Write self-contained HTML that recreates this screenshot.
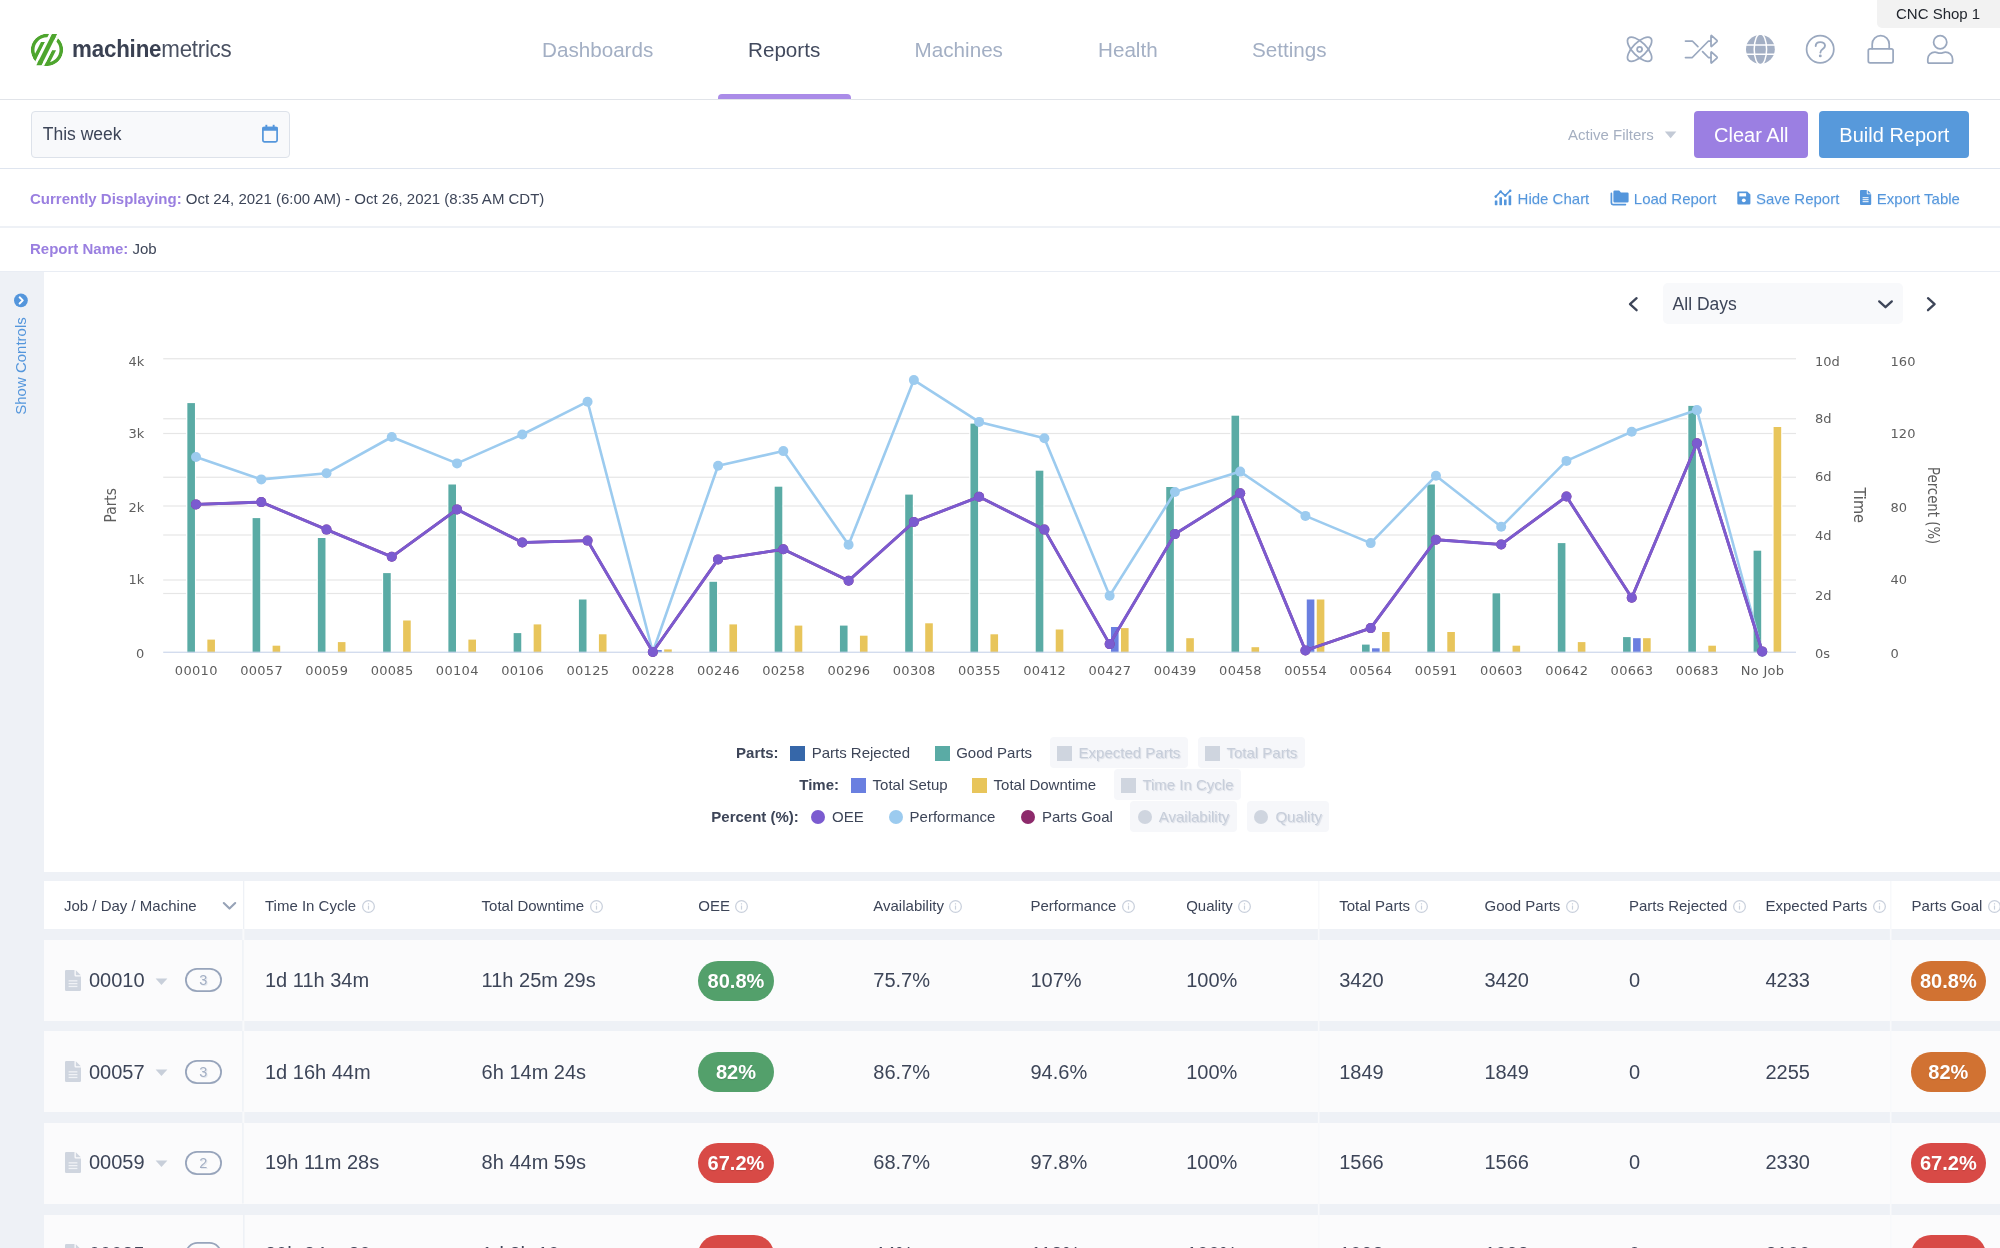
<!DOCTYPE html><html lang="en"><head><meta charset="utf-8"><title>MachineMetrics - Reports</title><style>
*{box-sizing:border-box;margin:0;padding:0}
html,body{width:2000px;height:1248px;overflow:hidden;background:#fff}
body{position:relative;will-change:transform;font-family:"Liberation Sans", Arial, sans-serif;color:#3d4558}
.abs{position:absolute;white-space:nowrap}
.ln{position:absolute;left:0;width:2000px}
.nav{font-size:20.65px;line-height:24px;color:#a3afc4;top:38px}
.nav.act{color:#424a5e}
.lnk{font-size:15px;line-height:18px;color:#5496dc;top:190px;text-shadow:0 1px 1px rgba(79,147,219,.25)}
.lgt{font-size:15px;line-height:20px;font-weight:bold;color:#3d4558}
.lgon,.lgoff{font-size:15px;line-height:31px;height:31px;padding:0 7.4px;border-radius:4px;color:#3d4558}
.lgoff{background:#f6f7fa;color:#c7ceda;text-shadow:1px 1px 1px rgba(160,170,190,.35)}
.ic{display:inline-block;width:15px;height:15px;margin-right:6.2px;vertical-align:-2.6px;background:#cfd5df}
.ic.rd{width:14px;height:14px;border-radius:50%;margin-right:7px;vertical-align:-2px}
.th{font-size:15px;line-height:20px;color:#3d4558}
.info{margin-left:5.4px;vertical-align:-2px}
.td{font-size:20px;line-height:24px;color:#3d4558}
.badge{width:37px;height:24.4px;box-shadow:inset 0 0 0 1.8px #97a4bb;border-radius:13px;text-align:center;font-size:14.5px;line-height:25.8px;color:#a3afc4;text-shadow:1px 1px 0 #e6e9ef}
.pill{width:75.3px;height:40px;border-radius:20px;color:#fff;font-weight:bold;font-size:20px;line-height:40.200px;text-align:center;text-shadow:0 1px 1px rgba(0,0,0,.12)}
.pill.g{background:#53a06b}.pill.r{background:#d84a46}.pill.o{background:#d17232}
</style></head><body>
<svg class="abs" style="left:28px;top:31px" width="38" height="38" viewBox="28 31 38 38">
<defs><clipPath id="lc"><circle cx="47" cy="49.8" r="16.15"/></clipPath></defs>
<g clip-path="url(#lc)">
<circle cx="47" cy="49.8" r="14.35" fill="none" stroke="#4ea52e" stroke-width="3.6"/>
<path d="M41 42h4.1L34.9 62.200h-4.100z" fill="#4ea52e"/>
<path d="M52 50.300h4.100L47.100 68h-4.100z" fill="#4ea52e"/>
<path d="M51.050 30h3.100L34 70h-3.100zM59.150 30h3.060L42.050 70h-3.060z" fill="#fff"/>
</g>
<path d="M52.100 34.100h5L41.400 65.300h-5z" fill="#4ea52e"/>
</svg>
<div class="abs" style="left:72.4px;top:35.2px;font-size:23.2px;line-height:28px;color:#3a4152;letter-spacing:-.3px;transform-origin:0 50%;transform:scaleX(.964)"><b style="letter-spacing:-.2px">machine</b><span style="font-weight:normal;color:#4a5162">metrics</span></div>
<div class="abs nav" style="left:542px">Dashboards</div>
<div class="abs nav act" style="left:748px">Reports</div>
<div class="abs nav" style="left:914.6px">Machines</div>
<div class="abs nav" style="left:1098px">Health</div>
<div class="abs nav" style="left:1252px">Settings</div>
<div class="abs" style="left:718px;top:93.6px;width:133px;height:5.4px;background:#aa8ce8;border-radius:4px 4px 0 0"></div>
<div class="abs" style="left:1876.6px;top:0;width:124px;height:27.6px;background:#f2f2f2;border-radius:0 0 0 5px;font-size:15px;line-height:28px;color:#22262e;padding-left:19.4px">CNC Shop 1</div>
<svg class="abs" style="left:1600px;top:20px" width="380" height="60" viewBox="1600 20 380 60" fill="none" stroke="#9aa8bf" stroke-width="1.75" stroke-linecap="round" stroke-linejoin="round">
<g transform="translate(1639.6,49.3)"><ellipse rx="15.7" ry="6.8" transform="rotate(45)"/><ellipse rx="15.7" ry="6.8" transform="rotate(-45)"/><circle r="2.5"/></g>
<path d="M1685.5 41h6.8l5.6 5.6M1702.6 51.6l5.8 5.9h2.3M1685.5 57.5h6.8l16.2-16.5h2.2"/>
<path d="M1711 36.2v9.6q0 1.2 .9 .4l5-4.6q.6-.6 0-1.2l-5-4.6q-.9-.8-.9 .4zM1711 52.7v9.6q0 1.2 .9 .4l5-4.6q.6-.6 0-1.2l-5-4.6q-.9-.8-.9 .4z"/>
<g stroke="none"><circle cx="1760.4" cy="49.3" r="14.4" fill="#a3afc4"/></g>
<g stroke="#fff" stroke-width="1.5" stroke-linecap="butt"><ellipse cx="1760.4" cy="49.3" rx="6.2" ry="15.6"/><path d="M1745 44.900h31M1745 54.300h31"/></g>
<circle cx="1820.2" cy="49.2" r="13.6"/>
<path d="M1815.7 46.100c0-2.500 2-4 4.600-4s4.700 1.500 4.700 3.700c0 3.300-4.600 3.200-4.600 6.700" stroke-width="1.900"/>
<circle cx="1820.3" cy="55.900" r="1.450" fill="#9aa8bf" stroke="none"/>
<rect x="1868.3" y="48.8" width="24.8" height="14" rx="1.8"/>
<path d="M1872.2 48.6v-4.4a8.5 8.5 0 0 1 17 0v4.4"/>
<circle cx="1940.2" cy="42.2" r="6.6"/>
<path d="M1929.6 63.2h21.2q1.8 0 1.8-1.8v-2.2c0-4-3.3-7-7.2-7c-1.8 0-2.7 1-5.2 1s-3.4-1-5.2-1c-3.9 0-7.2 3-7.2 7v2.2q0 1.8 1.8 1.8z"/>
</svg>
<div class="ln" style="top:98.8px;height:1.4px;background:#e1e4e9"></div>
<div class="abs" style="left:30.8px;top:111.2px;width:259px;height:46.4px;border:1px solid #dde2ea;border-radius:4px;background:#f8f9fb;font-size:17.5px;line-height:44px;padding-left:11px;color:#3d4558">This week</div>
<svg class="abs" style="left:260.6px;top:124px" width="18" height="20" viewBox="0 0 18 20"><rect x="1.9" y="3.6" width="14.2" height="14.3" rx="1.6" fill="none" stroke="#5496dc" stroke-width="1.7"/><rect x="1.2" y="2.8" width="15.6" height="4" rx="1.2" fill="#5496dc"/><rect x="4.4" y="0.8" width="1.9" height="4" fill="#5496dc"/><rect x="11.7" y="0.8" width="1.9" height="4" fill="#5496dc"/></svg>
<div class="abs" style="left:1568px;top:125.5px;font-size:15px;line-height:18px;color:#a5afc1">Active Filters</div>
<svg class="abs" style="left:1663.5px;top:131px" width="14" height="8" viewBox="0 0 14 8"><path d="M0.8 0.6h11.6L6.6 7.2z" fill="#c3cad6"/></svg>
<div class="abs" style="left:1694.4px;top:111px;width:113.8px;height:47px;border-radius:4px;background:#9b7fe2;color:#fff;font-size:20px;line-height:48px;text-align:center">Clear All</div>
<div class="abs" style="left:1819.4px;top:111px;width:150px;height:47px;border-radius:4px;background:#5799db;color:#fff;font-size:20px;line-height:48px;text-align:center">Build Report</div>
<div class="ln" style="top:168px;height:1.2px;background:#dfe5ef"></div>
<div class="abs" style="left:30px;top:189.5px;font-size:15px;line-height:18px;color:#3d4558"><b style="color:#9a7fe0">Currently Displaying:</b> Oct 24, 2021 (6:00 AM) - Oct 26, 2021 (8:35 AM CDT)</div>
<svg class="abs" style="left:1493.5px;top:189px" width="18" height="17" viewBox="0 0 18 17"><g fill="#5496dc"><rect x="0.8" y="11.6" width="2.6" height="4.6" rx=".4"/><rect x="5.4" y="8.2" width="2.6" height="8" rx=".4"/><rect x="10" y="10.4" width="2.6" height="5.8" rx=".4"/><rect x="14.6" y="6.4" width="2.6" height="9.8" rx=".4"/></g><path d="M1.6 7.6L6.6 2.6l4.6 4L16.2 1.6" fill="none" stroke="#5496dc" stroke-width="1.5" stroke-linecap="round" stroke-linejoin="round"/><g fill="#5496dc"><circle cx="1.8" cy="7.6" r="1.3"/><circle cx="6.6" cy="2.6" r="1.3"/><circle cx="11.2" cy="6.6" r="1.3"/><circle cx="16.2" cy="1.7" r="1.3"/></g></svg>
<div class="abs lnk" style="left:1517.6px">Hide Chart</div>
<svg class="abs" style="left:1609.5px;top:189.5px" width="19" height="16" viewBox="0 0 19 16"><path d="M4.6 0.6h4.6l1.7 1.8h6.5a1.2 1.2 0 0 1 1.2 1.2v7.6a1.2 1.2 0 0 1-1.2 1.2H4.6a1.2 1.2 0 0 1-1.2-1.2V1.8A1.2 1.2 0 0 1 4.6 0.6z" fill="#5496dc"/><path d="M1.4 3.4v9.600a1.600 1.600 0 0 0 1.600 1.600h12.400" fill="none" stroke="#5496dc" stroke-width="1.7" stroke-linecap="round"/></svg>
<div class="abs lnk" style="left:1633.8px">Load Report</div>
<svg class="abs" style="left:1737px;top:191px" width="14" height="14" viewBox="0 0 14 14"><path d="M1.5 0.4h8.7l3.2 3.200v8.700a1.200 1.200 0 0 1-1.200 1.200H1.500a1.200 1.200 0 0 1-1.200-1.200V1.600A1.200 1.200 0 0 1 1.500 0.400z" fill="#5496dc"/><rect x="2.300" y="2.200" width="6.800" height="3.200" fill="#fff"/><circle cx="6.800" cy="9.300" r="1.900" fill="#fff"/></svg>
<div class="abs lnk" style="left:1756px">Save Report</div>
<svg class="abs" style="left:1859.8px;top:190px" width="12" height="16" viewBox="0 0 12 16"><path d="M1 0h5.800v3.400a0.900 0.900 0 0 0 0.900 0.900H11.200v9.700a1 1 0 0 1-1 1H1a1 1 0 0 1-1-1V1A1 1 0 0 1 1 0z" fill="#5496dc"/><path d="M7.700 0.200l3.400 3.300H7.700z" fill="#5496dc"/><g fill="#fff"><rect x="2.600" y="7.200" width="6" height="1"/><rect x="2.600" y="9.200" width="6" height="1"/><rect x="2.600" y="11.200" width="6" height="1"/></g></svg>
<div class="abs lnk" style="left:1876.8px">Export Table</div>
<div class="ln" style="top:226.4px;height:1.2px;background:#eef1f6"></div>
<div class="abs" style="left:30px;top:239.5px;font-size:15px;line-height:18px;color:#3d4558"><b style="color:#9a7fe0">Report Name:</b> Job</div>
<div class="ln" style="top:270.6px;height:1.4px;background:#e9edf4"></div>
<div class="abs" style="left:0;top:272px;width:2000px;height:976px;background:#eef1f6"></div>
<div class="abs" style="left:44px;top:272px;width:1956px;height:600px;background:#fff"></div>
<svg class="abs" style="left:13px;top:293px" width="16" height="16" viewBox="0 0 16 16"><circle cx="7.9" cy="7.4" r="6.9" fill="#5496dc"/><path d="M6.6 4.3l3.200 3.100-3.200 3.100" fill="none" stroke="#fff" stroke-width="1.900" stroke-linecap="round" stroke-linejoin="round"/></svg>
<div class="abs" style="left:21px;top:365.7px;width:0;height:0"><div class="abs" style="transform:translate(-50%,-50%) rotate(-90deg);font-size:15px;line-height:18px;color:#5496dc">Show Controls</div></div>
<svg class="abs" style="left:1626px;top:295px" width="14" height="18" viewBox="0 0 14 18"><path d="M10.600 3.200L4 9.200l6.600 6" fill="none" stroke="#3d4558" stroke-width="2.300" stroke-linecap="round" stroke-linejoin="round"/></svg>
<div class="abs" style="left:1663px;top:283px;width:239.8px;height:41.2px;border-radius:5px;background:#f8f9fb;font-size:17.5px;line-height:42.2px;padding-left:9.6px;color:#3d4558">All Days</div>
<svg class="abs" style="left:1876px;top:298px" width="18" height="12" viewBox="0 0 18 12"><path d="M3.200 3.400l6.300 5.800 6.300-5.800" fill="none" stroke="#3d4558" stroke-width="2.300" stroke-linecap="round" stroke-linejoin="round"/></svg>
<svg class="abs" style="left:1924px;top:295px" width="14" height="18" viewBox="0 0 14 18"><path d="M4 3.200l6.600 6-6.600 6" fill="none" stroke="#3d4558" stroke-width="2.300" stroke-linecap="round" stroke-linejoin="round"/></svg>
<svg class="abs" style="left:0;top:272px" width="2000" height="600" viewBox="0 272 2000 600">
<rect x="163.2" y="358.15" width="1632.8" height="1.2" fill="#e6e6e6"/>
<rect x="163.2" y="418.15" width="1632.8" height="1.2" fill="#e6e6e6"/>
<rect x="163.2" y="432.90" width="1632.8" height="1.2" fill="#e6e6e6"/>
<rect x="163.2" y="476.65" width="1632.8" height="1.2" fill="#e6e6e6"/>
<rect x="163.2" y="505.40" width="1632.8" height="1.2" fill="#e6e6e6"/>
<rect x="163.2" y="534.40" width="1632.8" height="1.2" fill="#e6e6e6"/>
<rect x="163.2" y="579.40" width="1632.8" height="1.2" fill="#e6e6e6"/>
<rect x="163.2" y="592.90" width="1632.8" height="1.2" fill="#e6e6e6"/>
<rect x="186.15" y="401.90" width="10.0" height="249.75" fill="#fff"/>
<rect x="187.35" y="403.10" width="7.6" height="249.45" fill="#5aaba5"/>
<rect x="206.15" y="638.40" width="10.0" height="13.25" fill="#fff"/>
<rect x="207.35" y="639.60" width="7.6" height="12.95" fill="#e8c55b"/>
<rect x="251.41" y="516.90" width="10.0" height="134.75" fill="#fff"/>
<rect x="252.61" y="518.10" width="7.6" height="134.45" fill="#5aaba5"/>
<rect x="271.41" y="644.50" width="10.0" height="7.15" fill="#fff"/>
<rect x="272.61" y="645.70" width="7.6" height="6.85" fill="#e8c55b"/>
<rect x="316.67" y="536.80" width="10.0" height="114.85" fill="#fff"/>
<rect x="317.87" y="538.00" width="7.6" height="114.55" fill="#5aaba5"/>
<rect x="336.67" y="640.90" width="10.0" height="10.75" fill="#fff"/>
<rect x="337.87" y="642.10" width="7.6" height="10.45" fill="#e8c55b"/>
<rect x="381.93" y="571.90" width="10.0" height="79.75" fill="#fff"/>
<rect x="383.13" y="573.10" width="7.6" height="79.45" fill="#5aaba5"/>
<rect x="401.93" y="619.30" width="10.0" height="32.35" fill="#fff"/>
<rect x="403.13" y="620.50" width="7.6" height="32.05" fill="#e8c55b"/>
<rect x="447.19" y="483.30" width="10.0" height="168.35" fill="#fff"/>
<rect x="448.39" y="484.50" width="7.6" height="168.05" fill="#5aaba5"/>
<rect x="467.19" y="638.40" width="10.0" height="13.25" fill="#fff"/>
<rect x="468.39" y="639.60" width="7.6" height="12.95" fill="#e8c55b"/>
<rect x="512.45" y="631.90" width="10.0" height="19.75" fill="#fff"/>
<rect x="513.65" y="633.10" width="7.6" height="19.45" fill="#5aaba5"/>
<rect x="532.45" y="623.20" width="10.0" height="28.45" fill="#fff"/>
<rect x="533.65" y="624.40" width="7.6" height="28.15" fill="#e8c55b"/>
<rect x="577.71" y="598.30" width="10.0" height="53.35" fill="#fff"/>
<rect x="578.91" y="599.50" width="7.6" height="53.05" fill="#5aaba5"/>
<rect x="597.71" y="633.10" width="10.0" height="18.55" fill="#fff"/>
<rect x="598.91" y="634.30" width="7.6" height="18.25" fill="#e8c55b"/>
<rect x="652.97" y="648.80" width="10.0" height="2.85" fill="#fff"/>
<rect x="654.17" y="650.00" width="7.6" height="2.55" fill="#6a7fe0"/>
<rect x="662.97" y="648.20" width="10.0" height="3.45" fill="#fff"/>
<rect x="664.17" y="649.40" width="7.6" height="3.15" fill="#e8c55b"/>
<rect x="708.23" y="580.60" width="10.0" height="71.05" fill="#fff"/>
<rect x="709.43" y="581.80" width="7.6" height="70.75" fill="#5aaba5"/>
<rect x="728.23" y="623.20" width="10.0" height="28.45" fill="#fff"/>
<rect x="729.43" y="624.40" width="7.6" height="28.15" fill="#e8c55b"/>
<rect x="773.49" y="485.50" width="10.0" height="166.15" fill="#fff"/>
<rect x="774.69" y="486.70" width="7.6" height="165.85" fill="#5aaba5"/>
<rect x="793.49" y="624.40" width="10.0" height="27.25" fill="#fff"/>
<rect x="794.69" y="625.60" width="7.6" height="26.95" fill="#e8c55b"/>
<rect x="838.75" y="624.40" width="10.0" height="27.25" fill="#fff"/>
<rect x="839.95" y="625.60" width="7.6" height="26.95" fill="#5aaba5"/>
<rect x="858.75" y="634.50" width="10.0" height="17.15" fill="#fff"/>
<rect x="859.95" y="635.70" width="7.6" height="16.85" fill="#e8c55b"/>
<rect x="904.01" y="493.40" width="10.0" height="158.25" fill="#fff"/>
<rect x="905.21" y="494.60" width="7.6" height="157.95" fill="#5aaba5"/>
<rect x="924.01" y="622.10" width="10.0" height="29.55" fill="#fff"/>
<rect x="925.21" y="623.30" width="7.6" height="29.25" fill="#e8c55b"/>
<rect x="969.27" y="422.40" width="10.0" height="229.25" fill="#fff"/>
<rect x="970.47" y="423.60" width="7.6" height="228.95" fill="#5aaba5"/>
<rect x="989.27" y="633.10" width="10.0" height="18.55" fill="#fff"/>
<rect x="990.47" y="634.30" width="7.6" height="18.25" fill="#e8c55b"/>
<rect x="1034.53" y="469.50" width="10.0" height="182.15" fill="#fff"/>
<rect x="1035.73" y="470.70" width="7.6" height="181.85" fill="#5aaba5"/>
<rect x="1054.53" y="628.30" width="10.0" height="23.35" fill="#fff"/>
<rect x="1055.73" y="629.50" width="7.6" height="23.05" fill="#e8c55b"/>
<rect x="1109.79" y="625.80" width="10.0" height="25.85" fill="#fff"/>
<rect x="1110.99" y="627.00" width="7.6" height="25.55" fill="#6a7fe0"/>
<rect x="1119.79" y="626.90" width="10.0" height="24.75" fill="#fff"/>
<rect x="1120.99" y="628.10" width="7.6" height="24.45" fill="#e8c55b"/>
<rect x="1165.05" y="485.80" width="10.0" height="165.85" fill="#fff"/>
<rect x="1166.25" y="487.00" width="7.6" height="165.55" fill="#5aaba5"/>
<rect x="1185.05" y="637.00" width="10.0" height="14.65" fill="#fff"/>
<rect x="1186.25" y="638.20" width="7.6" height="14.35" fill="#e8c55b"/>
<rect x="1230.31" y="414.50" width="10.0" height="237.15" fill="#fff"/>
<rect x="1231.51" y="415.70" width="7.6" height="236.85" fill="#5aaba5"/>
<rect x="1250.31" y="646.00" width="10.0" height="5.65" fill="#fff"/>
<rect x="1251.51" y="647.20" width="7.6" height="5.35" fill="#e8c55b"/>
<rect x="1305.57" y="598.30" width="10.0" height="53.35" fill="#fff"/>
<rect x="1306.77" y="599.50" width="7.6" height="53.05" fill="#6a7fe0"/>
<rect x="1315.57" y="598.30" width="10.0" height="53.35" fill="#fff"/>
<rect x="1316.77" y="599.50" width="7.6" height="53.05" fill="#e8c55b"/>
<rect x="1360.83" y="643.40" width="10.0" height="8.25" fill="#fff"/>
<rect x="1362.03" y="644.60" width="7.6" height="7.95" fill="#5aaba5"/>
<rect x="1370.83" y="647.10" width="10.0" height="4.55" fill="#fff"/>
<rect x="1372.03" y="648.30" width="7.6" height="4.25" fill="#6a7fe0"/>
<rect x="1380.83" y="630.80" width="10.0" height="20.85" fill="#fff"/>
<rect x="1382.03" y="632.00" width="7.6" height="20.55" fill="#e8c55b"/>
<rect x="1426.09" y="483.30" width="10.0" height="168.35" fill="#fff"/>
<rect x="1427.29" y="484.50" width="7.6" height="168.05" fill="#5aaba5"/>
<rect x="1446.09" y="630.80" width="10.0" height="20.85" fill="#fff"/>
<rect x="1447.29" y="632.00" width="7.6" height="20.55" fill="#e8c55b"/>
<rect x="1491.35" y="592.10" width="10.0" height="59.55" fill="#fff"/>
<rect x="1492.55" y="593.30" width="7.6" height="59.25" fill="#5aaba5"/>
<rect x="1511.35" y="644.50" width="10.0" height="7.15" fill="#fff"/>
<rect x="1512.55" y="645.70" width="7.6" height="6.85" fill="#e8c55b"/>
<rect x="1556.61" y="541.90" width="10.0" height="109.75" fill="#fff"/>
<rect x="1557.81" y="543.10" width="7.6" height="109.45" fill="#5aaba5"/>
<rect x="1576.61" y="640.90" width="10.0" height="10.75" fill="#fff"/>
<rect x="1577.81" y="642.10" width="7.6" height="10.45" fill="#e8c55b"/>
<rect x="1621.87" y="635.90" width="10.0" height="15.75" fill="#fff"/>
<rect x="1623.07" y="637.10" width="7.6" height="15.45" fill="#5aaba5"/>
<rect x="1631.87" y="637.00" width="10.0" height="14.65" fill="#fff"/>
<rect x="1633.07" y="638.20" width="7.6" height="14.35" fill="#6a7fe0"/>
<rect x="1641.87" y="637.00" width="10.0" height="14.65" fill="#fff"/>
<rect x="1643.07" y="638.20" width="7.6" height="14.35" fill="#e8c55b"/>
<rect x="1687.13" y="404.70" width="10.0" height="246.95" fill="#fff"/>
<rect x="1688.33" y="405.90" width="7.6" height="246.65" fill="#5aaba5"/>
<rect x="1707.13" y="644.50" width="10.0" height="7.15" fill="#fff"/>
<rect x="1708.33" y="645.70" width="7.6" height="6.85" fill="#e8c55b"/>
<rect x="1752.39" y="549.50" width="10.0" height="102.15" fill="#fff"/>
<rect x="1753.59" y="550.70" width="7.6" height="101.85" fill="#5aaba5"/>
<rect x="1772.39" y="425.80" width="10.0" height="225.85" fill="#fff"/>
<rect x="1773.59" y="427.00" width="7.6" height="225.55" fill="#e8c55b"/>
<rect x="163.2" y="651.65" width="1632.8" height="1.2" fill="#ccd6eb"/>
<polyline points="196.00,457.00 261.26,479.40 326.52,473.20 391.78,437.00 457.04,463.40 522.30,434.50 587.56,401.70 652.82,652.00 718.08,465.70 783.34,451.10 848.60,544.80 913.86,380.10 979.12,421.90 1044.38,438.20 1109.64,595.80 1174.90,492.00 1240.16,471.60 1305.42,515.90 1370.68,543.10 1435.94,475.80 1501.20,526.80 1566.46,460.90 1631.72,431.70 1696.98,410.10 1762.24,652.00" fill="none" stroke="#9ccbef" stroke-width="2.6" stroke-linejoin="round" stroke-linecap="round"/>
<circle cx="196.00" cy="457.00" r="5" fill="#9ccbef"/>
<circle cx="261.26" cy="479.40" r="5" fill="#9ccbef"/>
<circle cx="326.52" cy="473.20" r="5" fill="#9ccbef"/>
<circle cx="391.78" cy="437.00" r="5" fill="#9ccbef"/>
<circle cx="457.04" cy="463.40" r="5" fill="#9ccbef"/>
<circle cx="522.30" cy="434.50" r="5" fill="#9ccbef"/>
<circle cx="587.56" cy="401.70" r="5" fill="#9ccbef"/>
<circle cx="652.82" cy="652.00" r="5" fill="#9ccbef"/>
<circle cx="718.08" cy="465.70" r="5" fill="#9ccbef"/>
<circle cx="783.34" cy="451.10" r="5" fill="#9ccbef"/>
<circle cx="848.60" cy="544.80" r="5" fill="#9ccbef"/>
<circle cx="913.86" cy="380.10" r="5" fill="#9ccbef"/>
<circle cx="979.12" cy="421.90" r="5" fill="#9ccbef"/>
<circle cx="1044.38" cy="438.20" r="5" fill="#9ccbef"/>
<circle cx="1109.64" cy="595.80" r="5" fill="#9ccbef"/>
<circle cx="1174.90" cy="492.00" r="5" fill="#9ccbef"/>
<circle cx="1240.16" cy="471.60" r="5" fill="#9ccbef"/>
<circle cx="1305.42" cy="515.90" r="5" fill="#9ccbef"/>
<circle cx="1370.68" cy="543.10" r="5" fill="#9ccbef"/>
<circle cx="1435.94" cy="475.80" r="5" fill="#9ccbef"/>
<circle cx="1501.20" cy="526.80" r="5" fill="#9ccbef"/>
<circle cx="1566.46" cy="460.90" r="5" fill="#9ccbef"/>
<circle cx="1631.72" cy="431.70" r="5" fill="#9ccbef"/>
<circle cx="1696.98" cy="410.10" r="5" fill="#9ccbef"/>
<circle cx="1762.24" cy="652.00" r="5" fill="#9ccbef"/>
<polyline points="196.00,504.40 261.26,502.10 326.52,529.60 391.78,556.80 457.04,509.40 522.30,542.50 587.56,540.60 652.82,652.00 718.08,559.40 783.34,549.30 848.60,580.70 913.86,522.00 979.12,496.80 1044.38,529.60 1109.64,644.10 1174.90,534.10 1240.16,493.20 1305.42,650.50 1370.68,628.10 1435.94,539.70 1501.20,544.50 1566.46,496.50 1631.72,597.80 1696.98,443.20 1762.24,651.40" fill="none" stroke="#8d2a6b" stroke-width="2.7" stroke-linejoin="round" stroke-linecap="round"/>
<circle cx="196.00" cy="504.40" r="5" fill="#8d2a6b"/>
<circle cx="261.26" cy="502.10" r="5" fill="#8d2a6b"/>
<circle cx="326.52" cy="529.60" r="5" fill="#8d2a6b"/>
<circle cx="391.78" cy="556.80" r="5" fill="#8d2a6b"/>
<circle cx="457.04" cy="509.40" r="5" fill="#8d2a6b"/>
<circle cx="522.30" cy="542.50" r="5" fill="#8d2a6b"/>
<circle cx="587.56" cy="540.60" r="5" fill="#8d2a6b"/>
<circle cx="652.82" cy="652.00" r="5" fill="#8d2a6b"/>
<circle cx="718.08" cy="559.40" r="5" fill="#8d2a6b"/>
<circle cx="783.34" cy="549.30" r="5" fill="#8d2a6b"/>
<circle cx="848.60" cy="580.70" r="5" fill="#8d2a6b"/>
<circle cx="913.86" cy="522.00" r="5" fill="#8d2a6b"/>
<circle cx="979.12" cy="496.80" r="5" fill="#8d2a6b"/>
<circle cx="1044.38" cy="529.60" r="5" fill="#8d2a6b"/>
<circle cx="1109.64" cy="644.10" r="5" fill="#8d2a6b"/>
<circle cx="1174.90" cy="534.10" r="5" fill="#8d2a6b"/>
<circle cx="1240.16" cy="493.20" r="5" fill="#8d2a6b"/>
<circle cx="1305.42" cy="650.50" r="5" fill="#8d2a6b"/>
<circle cx="1370.68" cy="628.10" r="5" fill="#8d2a6b"/>
<circle cx="1435.94" cy="539.70" r="5" fill="#8d2a6b"/>
<circle cx="1501.20" cy="544.50" r="5" fill="#8d2a6b"/>
<circle cx="1566.46" cy="496.50" r="5" fill="#8d2a6b"/>
<circle cx="1631.72" cy="597.80" r="5" fill="#8d2a6b"/>
<circle cx="1696.98" cy="443.20" r="5" fill="#8d2a6b"/>
<circle cx="1762.24" cy="651.40" r="5" fill="#8d2a6b"/>
<polyline points="196.00,504.40 261.26,502.10 326.52,529.60 391.78,556.80 457.04,509.40 522.30,542.50 587.56,540.60 652.82,652.00 718.08,559.40 783.34,549.30 848.60,580.70 913.86,522.00 979.12,496.80 1044.38,529.60 1109.64,644.10 1174.90,534.10 1240.16,493.20 1305.42,650.50 1370.68,628.10 1435.94,539.70 1501.20,544.50 1566.46,496.50 1631.72,597.80 1696.98,443.20 1762.24,651.40" fill="none" stroke="#7b5bd0" stroke-width="2.9" stroke-linejoin="round" stroke-linecap="round"/>
<circle cx="196.00" cy="504.40" r="5" fill="#7b5bd0"/>
<circle cx="261.26" cy="502.10" r="5" fill="#7b5bd0"/>
<circle cx="326.52" cy="529.60" r="5" fill="#7b5bd0"/>
<circle cx="391.78" cy="556.80" r="5" fill="#7b5bd0"/>
<circle cx="457.04" cy="509.40" r="5" fill="#7b5bd0"/>
<circle cx="522.30" cy="542.50" r="5" fill="#7b5bd0"/>
<circle cx="587.56" cy="540.60" r="5" fill="#7b5bd0"/>
<circle cx="652.82" cy="652.00" r="5" fill="#7b5bd0"/>
<circle cx="718.08" cy="559.40" r="5" fill="#7b5bd0"/>
<circle cx="783.34" cy="549.30" r="5" fill="#7b5bd0"/>
<circle cx="848.60" cy="580.70" r="5" fill="#7b5bd0"/>
<circle cx="913.86" cy="522.00" r="5" fill="#7b5bd0"/>
<circle cx="979.12" cy="496.80" r="5" fill="#7b5bd0"/>
<circle cx="1044.38" cy="529.60" r="5" fill="#7b5bd0"/>
<circle cx="1109.64" cy="644.10" r="5" fill="#7b5bd0"/>
<circle cx="1174.90" cy="534.10" r="5" fill="#7b5bd0"/>
<circle cx="1240.16" cy="493.20" r="5" fill="#7b5bd0"/>
<circle cx="1305.42" cy="650.50" r="5" fill="#7b5bd0"/>
<circle cx="1370.68" cy="628.10" r="5" fill="#7b5bd0"/>
<circle cx="1435.94" cy="539.70" r="5" fill="#7b5bd0"/>
<circle cx="1501.20" cy="544.50" r="5" fill="#7b5bd0"/>
<circle cx="1566.46" cy="496.50" r="5" fill="#7b5bd0"/>
<circle cx="1631.72" cy="597.80" r="5" fill="#7b5bd0"/>
<circle cx="1696.98" cy="443.20" r="5" fill="#7b5bd0"/>
<circle cx="1762.24" cy="651.40" r="5" fill="#7b5bd0"/>
<g style='font-family:"DejaVu Sans", "Liberation Sans", sans-serif;font-size:13px;fill:#5e5e5e'>
<text x="144.4" y="657.8" text-anchor="end">0</text>
<text x="144.4" y="584.3" text-anchor="end">1k</text>
<text x="144.4" y="511.8" text-anchor="end">2k</text>
<text x="144.4" y="438.1" text-anchor="end">3k</text>
<text x="144.4" y="366" text-anchor="end">4k</text>
<text x="1815" y="657.8">0s</text>
<text x="1815" y="599.6">2d</text>
<text x="1815" y="540.4">4d</text>
<text x="1815" y="481.2">6d</text>
<text x="1815" y="423.1">8d</text>
<text x="1815" y="366">10d</text>
<text x="1890.6" y="657.8">0</text>
<text x="1890.6" y="584.1">40</text>
<text x="1890.6" y="511.7">80</text>
<text x="1890.6" y="438.1">120</text>
<text x="1890.6" y="366">160</text>
<text x="196.3" y="675.3" text-anchor="middle" style="letter-spacing:.3px">00010</text>
<text x="261.6" y="675.3" text-anchor="middle" style="letter-spacing:.3px">00057</text>
<text x="326.8" y="675.3" text-anchor="middle" style="letter-spacing:.3px">00059</text>
<text x="392.1" y="675.3" text-anchor="middle" style="letter-spacing:.3px">00085</text>
<text x="457.3" y="675.3" text-anchor="middle" style="letter-spacing:.3px">00104</text>
<text x="522.6" y="675.3" text-anchor="middle" style="letter-spacing:.3px">00106</text>
<text x="587.9" y="675.3" text-anchor="middle" style="letter-spacing:.3px">00125</text>
<text x="653.1" y="675.3" text-anchor="middle" style="letter-spacing:.3px">00228</text>
<text x="718.4" y="675.3" text-anchor="middle" style="letter-spacing:.3px">00246</text>
<text x="783.6" y="675.3" text-anchor="middle" style="letter-spacing:.3px">00258</text>
<text x="848.9" y="675.3" text-anchor="middle" style="letter-spacing:.3px">00296</text>
<text x="914.2" y="675.3" text-anchor="middle" style="letter-spacing:.3px">00308</text>
<text x="979.4" y="675.3" text-anchor="middle" style="letter-spacing:.3px">00355</text>
<text x="1044.7" y="675.3" text-anchor="middle" style="letter-spacing:.3px">00412</text>
<text x="1109.9" y="675.3" text-anchor="middle" style="letter-spacing:.3px">00427</text>
<text x="1175.2" y="675.3" text-anchor="middle" style="letter-spacing:.3px">00439</text>
<text x="1240.5" y="675.3" text-anchor="middle" style="letter-spacing:.3px">00458</text>
<text x="1305.7" y="675.3" text-anchor="middle" style="letter-spacing:.3px">00554</text>
<text x="1371.0" y="675.3" text-anchor="middle" style="letter-spacing:.3px">00564</text>
<text x="1436.2" y="675.3" text-anchor="middle" style="letter-spacing:.3px">00591</text>
<text x="1501.5" y="675.3" text-anchor="middle" style="letter-spacing:.3px">00603</text>
<text x="1566.8" y="675.3" text-anchor="middle" style="letter-spacing:.3px">00642</text>
<text x="1632.0" y="675.3" text-anchor="middle" style="letter-spacing:.3px">00663</text>
<text x="1697.3" y="675.3" text-anchor="middle" style="letter-spacing:.3px">00683</text>
<text x="1762.5" y="675.3" text-anchor="middle" style="letter-spacing:.3px">No Job</text>
<text transform="translate(115.8,505.3) rotate(-90)" x="-17.1" textLength="34.2" lengthAdjust="spacingAndGlyphs" style="font-size:15px">Parts</text>
<text transform="translate(1853.6,505.2) rotate(90)" x="-17.8" textLength="35.6" lengthAdjust="spacingAndGlyphs" style="font-size:15px">Time</text>
<text transform="translate(1928.2,505.6) rotate(90)" x="-38.7" textLength="77.4" lengthAdjust="spacingAndGlyphs" style="font-size:15px">Percent (%)</text>
</g>
</svg>
<div class="abs lgt" style="left:736.1px;top:742.7px">Parts:</div>
<div class="abs lgon" style="left:783.1px;top:737.2px"><span class="ic " style="background:#3667a9"></span>Parts Rejected</div>
<div class="abs lgon" style="left:927.6px;top:737.2px"><span class="ic " style="background:#5aaba5"></span>Good Parts</div>
<div class="abs lgoff" style="left:1050.0px;top:737.2px"><span class="ic "></span>Expected Parts</div>
<div class="abs lgoff" style="left:1197.8999999999999px;top:737.2px"><span class="ic "></span>Total Parts</div>
<div class="abs lgt" style="left:799.3px;top:774.7px">Time:</div>
<div class="abs lgon" style="left:844.0px;top:769.2px"><span class="ic " style="background:#6a7fe0"></span>Total Setup</div>
<div class="abs lgon" style="left:965.0px;top:769.2px"><span class="ic " style="background:#e8c55b"></span>Total Downtime</div>
<div class="abs lgoff" style="left:1113.8px;top:769.2px"><span class="ic "></span>Time In Cycle</div>
<div class="abs lgt" style="left:711.3px;top:806.7px">Percent (%):</div>
<div class="abs lgon" style="left:803.6px;top:801.2px"><span class="ic rd" style="background:#7b5bd0"></span>OEE</div>
<div class="abs lgon" style="left:881.2px;top:801.2px"><span class="ic rd" style="background:#9ccbef"></span>Performance</div>
<div class="abs lgon" style="left:1013.6px;top:801.2px"><span class="ic rd" style="background:#8d2a6b"></span>Parts Goal</div>
<div class="abs lgoff" style="left:1130.3999999999999px;top:801.2px"><span class="ic rd"></span>Availability</div>
<div class="abs lgoff" style="left:1247.0px;top:801.2px"><span class="ic rd"></span>Quality</div>
<div class="abs" style="left:44px;top:881px;width:1956px;height:48px;background:#fff"></div>
<div class="abs th" style="left:64px;top:895.7px">Job / Day / Machine</div>
<svg class="abs" style="left:222px;top:900px" width="15" height="11" viewBox="0 0 15 11"><path d="M1.800 3l5.700 5.600 5.700-5.600" fill="none" stroke="#97a3b7" stroke-width="2.1" stroke-linecap="round" stroke-linejoin="round"/></svg>
<div class="abs th" style="left:265px;top:896px">Time In Cycle<svg class="info" width="13" height="13" viewBox="0 0 13 13"><circle cx="6.5" cy="6.5" r="5.850" fill="none" stroke="#c9d0dc" stroke-width="1.250"/><rect x="5.9" y="5.6" width="1.2" height="4" fill="#cbd2dd"/><rect x="5.9" y="3.2" width="1.2" height="1.3" fill="#cbd2dd"/></svg></div>
<div class="abs th" style="left:481.6px;top:896px">Total Downtime<svg class="info" width="13" height="13" viewBox="0 0 13 13"><circle cx="6.5" cy="6.5" r="5.850" fill="none" stroke="#c9d0dc" stroke-width="1.250"/><rect x="5.9" y="5.6" width="1.2" height="4" fill="#cbd2dd"/><rect x="5.9" y="3.2" width="1.2" height="1.3" fill="#cbd2dd"/></svg></div>
<div class="abs th" style="left:698.3px;top:896px">OEE<svg class="info" width="13" height="13" viewBox="0 0 13 13"><circle cx="6.5" cy="6.5" r="5.850" fill="none" stroke="#c9d0dc" stroke-width="1.250"/><rect x="5.9" y="5.6" width="1.2" height="4" fill="#cbd2dd"/><rect x="5.9" y="3.2" width="1.2" height="1.3" fill="#cbd2dd"/></svg></div>
<div class="abs th" style="left:873.3px;top:896px">Availability<svg class="info" width="13" height="13" viewBox="0 0 13 13"><circle cx="6.5" cy="6.5" r="5.850" fill="none" stroke="#c9d0dc" stroke-width="1.250"/><rect x="5.9" y="5.6" width="1.2" height="4" fill="#cbd2dd"/><rect x="5.9" y="3.2" width="1.2" height="1.3" fill="#cbd2dd"/></svg></div>
<div class="abs th" style="left:1030.5px;top:896px">Performance<svg class="info" width="13" height="13" viewBox="0 0 13 13"><circle cx="6.5" cy="6.5" r="5.850" fill="none" stroke="#c9d0dc" stroke-width="1.250"/><rect x="5.9" y="5.6" width="1.2" height="4" fill="#cbd2dd"/><rect x="5.9" y="3.2" width="1.2" height="1.3" fill="#cbd2dd"/></svg></div>
<div class="abs th" style="left:1186.2px;top:896px">Quality<svg class="info" width="13" height="13" viewBox="0 0 13 13"><circle cx="6.5" cy="6.5" r="5.850" fill="none" stroke="#c9d0dc" stroke-width="1.250"/><rect x="5.9" y="5.6" width="1.2" height="4" fill="#cbd2dd"/><rect x="5.9" y="3.2" width="1.2" height="1.3" fill="#cbd2dd"/></svg></div>
<div class="abs th" style="left:1339.2px;top:896px">Total Parts<svg class="info" width="13" height="13" viewBox="0 0 13 13"><circle cx="6.5" cy="6.5" r="5.850" fill="none" stroke="#c9d0dc" stroke-width="1.250"/><rect x="5.9" y="5.6" width="1.2" height="4" fill="#cbd2dd"/><rect x="5.9" y="3.2" width="1.2" height="1.3" fill="#cbd2dd"/></svg></div>
<div class="abs th" style="left:1484.5px;top:896px">Good Parts<svg class="info" width="13" height="13" viewBox="0 0 13 13"><circle cx="6.5" cy="6.5" r="5.850" fill="none" stroke="#c9d0dc" stroke-width="1.250"/><rect x="5.9" y="5.6" width="1.2" height="4" fill="#cbd2dd"/><rect x="5.9" y="3.2" width="1.2" height="1.3" fill="#cbd2dd"/></svg></div>
<div class="abs th" style="left:1629px;top:896px">Parts Rejected<svg class="info" width="13" height="13" viewBox="0 0 13 13"><circle cx="6.5" cy="6.5" r="5.850" fill="none" stroke="#c9d0dc" stroke-width="1.250"/><rect x="5.9" y="5.6" width="1.2" height="4" fill="#cbd2dd"/><rect x="5.9" y="3.2" width="1.2" height="1.3" fill="#cbd2dd"/></svg></div>
<div class="abs th" style="left:1765.5px;top:896px">Expected Parts<svg class="info" width="13" height="13" viewBox="0 0 13 13"><circle cx="6.5" cy="6.5" r="5.850" fill="none" stroke="#c9d0dc" stroke-width="1.250"/><rect x="5.9" y="5.6" width="1.2" height="4" fill="#cbd2dd"/><rect x="5.9" y="3.2" width="1.2" height="1.3" fill="#cbd2dd"/></svg></div>
<div class="abs th" style="left:1911.5px;top:896px">Parts Goal<svg class="info" width="13" height="13" viewBox="0 0 13 13"><circle cx="6.5" cy="6.5" r="5.850" fill="none" stroke="#c9d0dc" stroke-width="1.250"/><rect x="5.9" y="5.6" width="1.2" height="4" fill="#cbd2dd"/><rect x="5.9" y="3.2" width="1.2" height="1.3" fill="#cbd2dd"/></svg></div>
<div class="abs" style="left:44px;top:940px;width:1956px;height:80.5px;background:#fbfbfc"></div>
<svg class="abs" style="left:65px;top:969.8000000000001px" width="16" height="21" viewBox="0 0 16 21"><path d="M1.2 0h8.3v5.2a1.2 1.2 0 0 0 1.2 1.2H16v13.4a1.2 1.2 0 0 1-1.2 1.2H1.2A1.2 1.2 0 0 1 0 19.8V1.2A1.2 1.2 0 0 1 1.2 0z" fill="#cfd5df"/><path d="M10.8 0.2L15.8 5.2h-5z" fill="#cfd5df"/><g fill="#f0f2f6"><rect x="3.6" y="10.2" width="8.8" height="1.3"/><rect x="3.6" y="13" width="8.8" height="1.3"/><rect x="3.6" y="15.8" width="8.8" height="1.3"/></g></svg>
<div class="abs td" style="left:89px;top:968.2px">00010</div>
<svg class="abs" style="left:154.9px;top:977.8000000000001px" width="13" height="8" viewBox="0 0 13 8"><path d="M0.6 0.6h11.8L6.5 7z" fill="#c8cfda"/></svg>
<div class="abs badge" style="left:184.8px;top:968.0px">3</div>
<div class="abs td" style="left:265px;top:968.2px">1d 11h 34m</div>
<div class="abs td" style="left:481.6px;top:968.2px">11h 25m 29s</div>
<div class="abs pill g" style="left:698.3px;top:960.5px">80.8%</div>
<div class="abs td" style="left:873.3px;top:968.2px">75.7%</div>
<div class="abs td" style="left:1030.5px;top:968.2px">107%</div>
<div class="abs td" style="left:1186.2px;top:968.2px">100%</div>
<div class="abs td" style="left:1339.2px;top:968.2px">3420</div>
<div class="abs td" style="left:1484.5px;top:968.2px">3420</div>
<div class="abs td" style="left:1629px;top:968.2px">0</div>
<div class="abs td" style="left:1765.5px;top:968.2px">4233</div>
<div class="abs pill o" style="left:1910.7px;top:960.5px">80.8%</div>
<div class="abs" style="left:44px;top:1031px;width:1956px;height:80.5px;background:#fbfbfc"></div>
<svg class="abs" style="left:65px;top:1061.3px" width="16" height="21" viewBox="0 0 16 21"><path d="M1.2 0h8.3v5.2a1.2 1.2 0 0 0 1.2 1.2H16v13.4a1.2 1.2 0 0 1-1.2 1.2H1.2A1.2 1.2 0 0 1 0 19.8V1.2A1.2 1.2 0 0 1 1.2 0z" fill="#cfd5df"/><path d="M10.8 0.2L15.8 5.2h-5z" fill="#cfd5df"/><g fill="#f0f2f6"><rect x="3.6" y="10.2" width="8.8" height="1.3"/><rect x="3.6" y="13" width="8.8" height="1.3"/><rect x="3.6" y="15.8" width="8.8" height="1.3"/></g></svg>
<div class="abs td" style="left:89px;top:1059.6px">00057</div>
<svg class="abs" style="left:154.9px;top:1069.1999999999998px" width="13" height="8" viewBox="0 0 13 8"><path d="M0.6 0.6h11.8L6.5 7z" fill="#c8cfda"/></svg>
<div class="abs badge" style="left:184.8px;top:1059.5px">3</div>
<div class="abs td" style="left:265px;top:1059.6px">1d 16h 44m</div>
<div class="abs td" style="left:481.6px;top:1059.6px">6h 14m 24s</div>
<div class="abs pill g" style="left:698.3px;top:1052.1px">82%</div>
<div class="abs td" style="left:873.3px;top:1059.6px">86.7%</div>
<div class="abs td" style="left:1030.5px;top:1059.6px">94.6%</div>
<div class="abs td" style="left:1186.2px;top:1059.6px">100%</div>
<div class="abs td" style="left:1339.2px;top:1059.6px">1849</div>
<div class="abs td" style="left:1484.5px;top:1059.6px">1849</div>
<div class="abs td" style="left:1629px;top:1059.6px">0</div>
<div class="abs td" style="left:1765.5px;top:1059.6px">2255</div>
<div class="abs pill o" style="left:1910.7px;top:1052.1px">82%</div>
<div class="abs" style="left:44px;top:1123px;width:1956px;height:80.5px;background:#fbfbfc"></div>
<svg class="abs" style="left:65px;top:1152.3999999999999px" width="16" height="21" viewBox="0 0 16 21"><path d="M1.2 0h8.3v5.2a1.2 1.2 0 0 0 1.2 1.2H16v13.4a1.2 1.2 0 0 1-1.2 1.2H1.2A1.2 1.2 0 0 1 0 19.8V1.2A1.2 1.2 0 0 1 1.2 0z" fill="#cfd5df"/><path d="M10.8 0.2L15.8 5.2h-5z" fill="#cfd5df"/><g fill="#f0f2f6"><rect x="3.6" y="10.2" width="8.8" height="1.3"/><rect x="3.6" y="13" width="8.8" height="1.3"/><rect x="3.6" y="15.8" width="8.8" height="1.3"/></g></svg>
<div class="abs td" style="left:89px;top:1150.2px">00059</div>
<svg class="abs" style="left:154.9px;top:1159.8px" width="13" height="8" viewBox="0 0 13 8"><path d="M0.6 0.6h11.8L6.5 7z" fill="#c8cfda"/></svg>
<div class="abs badge" style="left:184.8px;top:1150.6px">2</div>
<div class="abs td" style="left:265px;top:1150.2px">19h 11m 28s</div>
<div class="abs td" style="left:481.6px;top:1150.2px">8h 44m 59s</div>
<div class="abs pill r" style="left:698.3px;top:1143.2px">67.2%</div>
<div class="abs td" style="left:873.3px;top:1150.2px">68.7%</div>
<div class="abs td" style="left:1030.5px;top:1150.2px">97.8%</div>
<div class="abs td" style="left:1186.2px;top:1150.2px">100%</div>
<div class="abs td" style="left:1339.2px;top:1150.2px">1566</div>
<div class="abs td" style="left:1484.5px;top:1150.2px">1566</div>
<div class="abs td" style="left:1629px;top:1150.2px">0</div>
<div class="abs td" style="left:1765.5px;top:1150.2px">2330</div>
<div class="abs pill r" style="left:1910.7px;top:1143.2px">67.2%</div>
<div class="abs" style="left:44px;top:1215px;width:1956px;height:80.5px;background:#fbfbfc"></div>
<svg class="abs" style="left:65px;top:1244.1999999999998px" width="16" height="21" viewBox="0 0 16 21"><path d="M1.2 0h8.3v5.2a1.2 1.2 0 0 0 1.2 1.2H16v13.4a1.2 1.2 0 0 1-1.2 1.2H1.2A1.2 1.2 0 0 1 0 19.8V1.2A1.2 1.2 0 0 1 1.2 0z" fill="#cfd5df"/><path d="M10.8 0.2L15.8 5.2h-5z" fill="#cfd5df"/><g fill="#f0f2f6"><rect x="3.6" y="10.2" width="8.8" height="1.3"/><rect x="3.6" y="13" width="8.8" height="1.3"/><rect x="3.6" y="15.8" width="8.8" height="1.3"/></g></svg>
<div class="abs td" style="left:89px;top:1241.7px">00085</div>
<svg class="abs" style="left:154.9px;top:1251.3px" width="13" height="8" viewBox="0 0 13 8"><path d="M0.6 0.6h11.8L6.5 7z" fill="#c8cfda"/></svg>
<div class="abs badge" style="left:184.8px;top:1242.3999999999999px">2</div>
<div class="abs td" style="left:265px;top:1241.7px">20h 34m 30s</div>
<div class="abs td" style="left:481.6px;top:1241.7px">1d 2h 10m</div>
<div class="abs pill r" style="left:698.3px;top:1235px">51.9%</div>
<div class="abs td" style="left:873.3px;top:1241.7px">44%</div>
<div class="abs td" style="left:1030.5px;top:1241.7px">118%</div>
<div class="abs td" style="left:1186.2px;top:1241.7px">100%</div>
<div class="abs td" style="left:1339.2px;top:1241.7px">1093</div>
<div class="abs td" style="left:1484.5px;top:1241.7px">1093</div>
<div class="abs td" style="left:1629px;top:1241.7px">0</div>
<div class="abs td" style="left:1765.5px;top:1241.7px">2106</div>
<div class="abs pill r" style="left:1910.7px;top:1235px">51.9%</div>
<svg class="abs" style="left:0;top:880px" width="2000" height="368" viewBox="0 880 2000 368">
<rect x="243" y="881" width="1.3" height="48" fill="#eef1f6"/>
<rect x="242.4" y="929" width="2" height="11" fill="#f8f9fb"/>
<rect x="242.4" y="1020.5" width="2" height="10.5" fill="#f8f9fb"/>
<rect x="242.4" y="1111.5" width="2" height="11.5" fill="#f8f9fb"/>
<rect x="242.2" y="940" width="1.4" height="80.5" fill="#edf0f5"/>
<rect x="242.2" y="1031" width="1.4" height="80.5" fill="#edf0f5"/>
<rect x="242.2" y="1123" width="1.4" height="80.5" fill="#edf0f5"/>
<rect x="243.1" y="1215" width="1.5" height="33" fill="#edf0f5"/>
<rect x="1317.9" y="881" width="1.6" height="367" fill="#f8f9fb"/>
<rect x="1889.9" y="881" width="1.6" height="367" fill="#f8f9fb"/>
</svg>
</body></html>
